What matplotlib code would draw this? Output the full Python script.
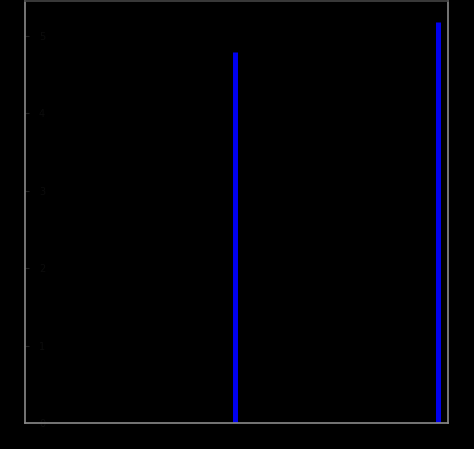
import matplotlib
matplotlib.use('Agg')
import matplotlib.pyplot as plt
import numpy as np

# two spikes
positions = [1.0, 2.0]
heights = [4.79, 5.18]
yticks = [0, 1, 2, 3, 4, 5]

fig = plt.figure(figsize=(4.74, 4.49), dpi=100, facecolor='black')
ax = fig.add_axes([0.053, 0.058, 0.892, 0.94])
ax.set_facecolor('black')

ax.vlines(positions, 0, heights, colors='#0000ee', lw=3.6)

ax.set_xlim(-0.033, 2.05)
ax.set_ylim(0, 5.45)
ax.set_yticks(yticks)
ax.set_xticks([])
ax.tick_params(axis='y', direction='in', length=3, color='#222222',
               labelcolor='#0c0c0c', labelsize=7, pad=-10)
for lab in ax.get_yticklabels():
    lab.set_horizontalalignment('left')

for side in ['left', 'bottom', 'right']:
    ax.spines[side].set_color('#8a8a8a')
    ax.spines[side].set_linewidth(1.2)
ax.spines['top'].set_color('#444444')
ax.spines['top'].set_linewidth(1.2)

fig.savefig('out.png', dpi=100, facecolor='black')
